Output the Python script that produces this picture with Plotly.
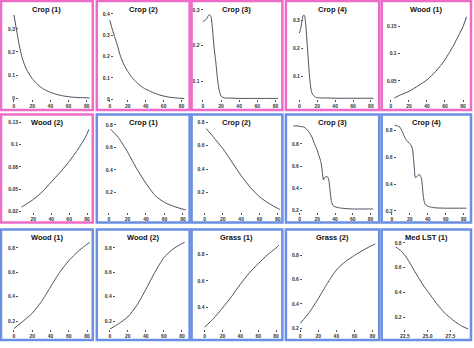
import plotly.graph_objects as go

W, H = 474, 348

# ---------------- panel titles ----------------
titles = ["Crop (1)", "Crop (2)", "Crop (3)", "Crop (4)", "Wood (1)",
          "Wood (2)", "Crop (1)", "Crop (2)", "Crop (3)", "Crop (4)",
          "Wood (1)", "Wood (2)", "Grass (1)", "Grass (2)", "Med LST (1)"]

# ---------------- series (one x / y pair per panel) ----------------
crop1_a_x = [0, 3, 6, 9, 12, 15, 20, 25, 30, 35, 40, 47, 55, 65, 75, 83]
crop1_a_y = [0.36, 0.29, 0.225, 0.175, 0.14, 0.115, 0.085, 0.063, 0.046, 0.034,
             0.025, 0.016, 0.009, 0.004, 0.002, 0.001]

crop2_a_x = [0, 3, 6, 9, 12, 16, 20, 25, 30, 35, 40, 47, 55, 65, 75, 83]
crop2_a_y = [0.37, 0.325, 0.285, 0.245, 0.2, 0.16, 0.13, 0.10, 0.078, 0.06,
             0.047, 0.033, 0.02, 0.01, 0.005, 0.003]

crop3_a_x = [0, 2, 4, 6, 7.5, 9, 10, 11, 12, 13, 14, 15, 16, 17, 18, 19, 20,
             22, 25, 30, 40, 50, 60, 70, 80, 83]
crop3_a_y = [0.268, 0.27, 0.275, 0.284, 0.287, 0.28, 0.262, 0.235, 0.205, 0.18,
             0.16, 0.135, 0.11, 0.09, 0.075, 0.065, 0.059, 0.055, 0.053, 0.053,
             0.052, 0.052, 0.052, 0.052, 0.052, 0.052]

crop4_a_x = [0, 1, 2, 3, 4, 5, 6, 7, 8, 9, 10, 11, 12, 13, 14, 16, 18, 20, 25,
             30, 40, 50, 60, 70, 80, 83]
crop4_a_y = [0.255, 0.265, 0.28, 0.3, 0.315, 0.32, 0.315, 0.29, 0.25, 0.205,
             0.16, 0.115, 0.08, 0.055, 0.042, 0.032, 0.027, 0.025, 0.024, 0.024,
             0.023, 0.023, 0.023, 0.023, 0.023, 0.023]

wood1_a_x = [4, 10, 20, 30, 40, 50, 60, 70, 80, 84]
wood1_a_y = [0.019, 0.024, 0.031, 0.041, 0.052, 0.068, 0.089, 0.117, 0.150, 0.168]

wood2_a_x = [7, 15, 20, 30, 40, 50, 60, 70, 78, 82]
wood2_a_y = [0.030, 0.035, 0.0385, 0.047, 0.058, 0.069, 0.081, 0.095, 0.108, 0.117]

crop1_b_x = [2, 10, 20, 30, 40, 50, 60, 70, 80, 83]
crop1_b_y = [0.76, 0.69, 0.56, 0.41, 0.28, 0.17, 0.11, 0.075, 0.05, 0.043]

crop2_b_x = [2, 10, 20, 30, 40, 50, 60, 70, 80, 83]
crop2_b_y = [0.745, 0.67, 0.575, 0.46, 0.345, 0.245, 0.165, 0.11, 0.065, 0.055]

crop3_b_x = [-7, -3, 1, 5, 8, 11, 14, 16, 19, 22, 24, 25, 26, 27, 28, 30, 32,
             33, 34, 35, 36, 38, 40, 45, 50, 60, 70, 80, 83]
crop3_b_y = [0.96, 0.96, 0.955, 0.95, 0.93, 0.90, 0.86, 0.815, 0.76, 0.69, 0.64,
             0.59, 0.52, 0.475, 0.495, 0.505, 0.50, 0.475, 0.41, 0.34, 0.28,
             0.245, 0.235, 0.225, 0.22, 0.215, 0.215, 0.215, 0.215]

crop4_b_x = [3, 6, 9, 12, 15, 18, 21, 23, 24, 25, 26, 27, 29, 31, 33, 34, 35,
             36, 37, 39, 42, 46, 50, 60, 70, 80, 83]
crop4_b_y = [0.84, 0.835, 0.825, 0.785, 0.74, 0.715, 0.695, 0.66, 0.6, 0.52,
             0.45, 0.45, 0.465, 0.47, 0.44, 0.38, 0.31, 0.27, 0.25, 0.238, 0.23,
             0.225, 0.222, 0.22, 0.22, 0.22, 0.22]

wood1_c_x = [0, 10, 20, 30, 40, 50, 60, 70, 80, 83]
wood1_c_y = [0.14, 0.2, 0.265, 0.36, 0.48, 0.6, 0.695, 0.77, 0.83, 0.845]

wood2_c_x = [0, 10, 20, 30, 40, 50, 60, 70, 80, 83]
wood2_c_y = [0.135, 0.18, 0.235, 0.33, 0.46, 0.6, 0.72, 0.79, 0.835, 0.845]

grass1_x = [0, 10, 20, 30, 40, 50, 60, 70, 80, 83]
grass1_y = [0.25, 0.315, 0.395, 0.48, 0.575, 0.66, 0.73, 0.795, 0.85, 0.87]

grass2_x = [0, 10, 20, 30, 40, 50, 60, 70, 80, 83]
grass2_y = [0.24, 0.33, 0.445, 0.57, 0.68, 0.75, 0.80, 0.845, 0.885, 0.895]

medlst_x = [21.5, 22, 22.5, 23, 23.5, 24, 24.5, 25, 25.5, 26, 26.5, 27, 27.5,
            28, 28.5, 29, 29.5]
medlst_y = [0.768, 0.74, 0.70, 0.645, 0.58, 0.52, 0.46, 0.41, 0.36, 0.31, 0.265,
            0.225, 0.195, 0.165, 0.14, 0.12, 0.105]

series_x = [crop1_a_x, crop2_a_x, crop3_a_x, crop4_a_x, wood1_a_x,
            wood2_a_x, crop1_b_x, crop2_b_x, crop3_b_x, crop4_b_x,
            wood1_c_x, wood2_c_x, grass1_x, grass2_x, medlst_x]
series_y = [crop1_a_y, crop2_a_y, crop3_a_y, crop4_a_y, wood1_a_y,
            wood2_a_y, crop1_b_y, crop2_b_y, crop3_b_y, crop4_b_y,
            wood1_c_y, wood2_c_y, grass1_y, grass2_y, medlst_y]

# ---------------- tick labels ----------------
x_ticks_pct = [0, 20, 40, 60, 80]
x_ticks_pct_no0 = [20, 40, 60, 80]
x_ticks_lst = [22.5, 25.0, 27.5]
x_text_lst = ["22.5", "25.0", "27.5"]

y_ticks = [
    [0, 0.1, 0.2, 0.3],
    [0, 0.1, 0.2, 0.3, 0.4],
    [0.1, 0.2, 0.3],
    [0.1, 0.2, 0.3],
    [0.05, 0.1, 0.15],
    [0.025, 0.05, 0.075, 0.1, 0.125],
    [0.2, 0.4, 0.6, 0.8],
    [0.2, 0.4, 0.6, 0.8],
    [0.2, 0.4, 0.6, 0.8],
    [0.2, 0.4, 0.6, 0.8],
    [0.2, 0.4, 0.6, 0.8],
    [0.2, 0.4, 0.6, 0.8],
    [0.4, 0.6, 0.8],
    [0.2, 0.4, 0.6, 0.8],
    [0.2, 0.4, 0.6, 0.8],
]
y_text = [
    ["0", "0.1", "0.2", "0.3"],
    ["0", "0.1", "0.2", "0.3", "0.4"],
    ["0.1", "0.2", "0.3"],
    ["0.1", "0.2", "0.3"],
    ["0.05", "0.1", "0.15"],
    ["0.02", "0.05", "0.08", "0.1", "0.13"],
    ["0.2", "0.4", "0.6", "0.8"],
    ["0.2", "0.4", "0.6", "0.8"],
    ["0.2", "0.4", "0.6", "0.8"],
    ["0.2", "0.4", "0.6", "0.8"],
    ["0.2", "0.4", "0.6", "0.8"],
    ["0.2", "0.4", "0.6", "0.8"],
    ["0.4", "0.6", "0.8"],
    ["0.2", "0.4", "0.6", "0.8"],
    ["0.2", "0.4", "0.6", "0.8"],
]

# ---------------- layout geometry (pixels) ----------------
PINK = "#ee6cc8"
BLUE = "#6b8fe4"
LINE = "#44505e"
FONT = "Liberation Sans, Arial, sans-serif"

col_edges = [(1, 93), (97, 190), (192, 283), (286.5, 380), (382.5, 472)]
row_edges = [(1, 111), (115.5, 224.5), (231.5, 343)]

# per panel: x calibration (value, px, px/unit), y calibration (value, px, px/unit),
# y-axis tick offset from the panel's left border
x_cal = [(0, 14, 0.9125), (0, 110, 0.9), (0, 203.3, 0.909), (0, 300, 0.896),
         (0, 391.7, 0.904), (0, 15.3, 0.9), (0, 109.2, 0.927), (0, 205, 0.916),
         (0, 300.2, 0.888), (0, 392.7, 0.9), (0, 14, 0.916), (0, 110, 0.904),
         (0, 205, 0.896), (0, 300.9, 0.905), (22.5, 405.7, 9.12)]
y_cal = [(0, 99, 233.3), (0, 100, 215), (0.3, 10, 360), (0.3, 20.7, 283),
         (0.15, 26.7, 550), (0.125, 123.3, 907), (0.8, 126, 113.3),
         (0.8, 123.3, 118.3), (0.8, 145, 112.5), (0.8, 131.7, 135),
         (0.8, 250, 123.3), (0.8, 250, 123.3), (0.8, 256.7, 133.3),
         (0.8, 257.7, 122.2), (0.8, 245, 125)]
y_axis_off = [17, 16, 11, 17, 18, 20, 19, 16, 16, 14, 17, 18, 16, 16, 23]

fig = go.Figure()
shapes, annotations = [], []

for i in range(15):
    n = i + 1
    r, c = divmod(i, 5)
    L, R = col_edges[c]
    T, B = row_edges[r]
    pl, pr, pt, pb = L + 2.5, R - 2.5, T + 2.5, B - 11

    xv, xpx, sx = x_cal[i]
    x_lo = xv + (pl - xpx) / sx
    x_hi = xv + (pr - xpx) / sx
    yv, ypx, sy = y_cal[i]
    y_lo = min(yv + (ypx - pb) / sy, min(y_ticks[i]) - 1e-4)
    y_hi = yv + (ypx - pt) / sy

    xs = "" if n == 1 else str(n)
    fig.add_trace(go.Scatter(
        x=series_x[i], y=series_y[i], mode="lines",
        line=dict(color=LINE, width=1, shape="spline", smoothing=0.6),
        xaxis="x" + xs, yaxis="y" + xs, showlegend=False, hoverinfo="skip"))

    if i == 14:
        xt, xtt = x_ticks_lst, x_text_lst
    elif i == 5:
        xt, xtt = x_ticks_pct_no0, [str(v) for v in x_ticks_pct_no0]
    else:
        xt, xtt = x_ticks_pct, [str(v) for v in x_ticks_pct]

    tick_font = dict(family=FONT, size=5, color="#333333", weight="bold")
    fig.layout["xaxis" + xs] = dict(
        domain=[pl / W, pr / W], range=[x_lo, x_hi], anchor="y" + xs,
        showgrid=False, zeroline=False, showline=False,
        ticks="outside", ticklen=2, tickwidth=1, tickcolor="#555555",
        tickmode="array", tickvals=xt, ticktext=xtt, tickfont=tick_font,
        fixedrange=True)
    fig.layout["yaxis" + xs] = dict(
        domain=[1 - pb / H, 1 - pt / H], range=[y_lo, y_hi],
        anchor="free", position=(L + y_axis_off[i]) / W,
        showgrid=False, zeroline=False, showline=False,
        ticks="outside", ticklen=2, tickwidth=1, tickcolor="#555555",
        tickmode="array", tickvals=y_ticks[i], ticktext=y_text[i],
        tickfont=tick_font, fixedrange=True)

    colour = PINK if i < 6 else BLUE
    shapes.append(dict(type="rect", xref="paper", yref="paper",
                       x0=L / W, x1=R / W, y0=1 - B / H, y1=1 - T / H,
                       line=dict(color=colour, width=2.5)))
    annotations.append(dict(text="<b>" + titles[i] + "</b>", xref="paper",
                            yref="paper", x=(L + R) / 2 / W, y=1 - (T + 8.5) / H,
                            xanchor="center", yanchor="middle", showarrow=False,
                            font=dict(family=FONT, size=7.5, color="#111111")))

fig.update_layout(
    width=W, height=H, margin=dict(l=0, r=0, t=0, b=0),
    paper_bgcolor="white", plot_bgcolor="white",
    shapes=shapes, annotations=annotations)

fig.write_html("out.html")
